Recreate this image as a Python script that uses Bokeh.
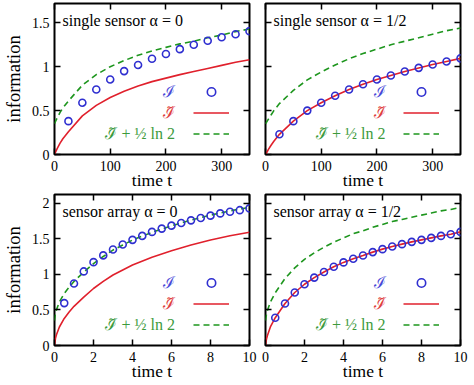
from bokeh.plotting import figure
from bokeh.models import (Range1d, LinearAxis, FixedTicker, Label, Legend,
                          LegendItem, NumeralTickFormatter)
from bokeh.core.properties import value
from bokeh.layouts import column, row
from bokeh.embed import file_html
from bokeh.resources import INLINE

# ---------------- data ----------------
# single sensor, alpha = 0
ss0_t_pts = [25, 50, 75, 100, 125, 150, 175, 200, 225, 250, 275, 300, 325, 350]
ss0_I = [0.38, 0.59, 0.74, 0.855, 0.95, 1.02, 1.09, 1.145, 1.20, 1.25, 1.295, 1.335, 1.37, 1.405]
ss0_t = [0, 2, 5, 10, 15, 25, 50, 75, 100, 125, 150, 175, 200, 225, 250, 275, 300, 325, 350]
ss0_It = [0, 0.03, 0.07, 0.13, 0.18, 0.26, 0.44, 0.56, 0.65, 0.72, 0.78, 0.83, 0.87, 0.91,
          0.945, 0.98, 1.015, 1.05, 1.08]
ss0_It2 = [0.35, 0.38, 0.42, 0.48, 0.53, 0.61, 0.79, 0.91, 1.0, 1.07, 1.13, 1.18, 1.22, 1.26,
           1.29, 1.33, 1.36, 1.40, 1.43]

# single sensor, alpha = 1/2
ss5_t_pts = [25, 50, 75, 100, 125, 150, 175, 200, 225, 250, 275, 300, 325, 350]
ss5_I = [0.23, 0.38, 0.50, 0.59, 0.67, 0.74, 0.80, 0.855, 0.90, 0.945, 0.987, 1.026, 1.06, 1.095]
ss5_t = [0, 2, 5, 10, 15, 25, 50, 75, 100, 125, 150, 175, 200, 225, 250, 275, 300, 325, 350]
ss5_It = [0, 0.02, 0.055, 0.105, 0.15, 0.23, 0.38, 0.50, 0.59, 0.67, 0.74, 0.80, 0.855, 0.90,
          0.945, 0.985, 1.025, 1.06, 1.095]
ss5_It2 = [0.35, 0.37, 0.40, 0.45, 0.50, 0.58, 0.73, 0.85, 0.94, 1.02, 1.09, 1.15, 1.20, 1.25,
           1.29, 1.33, 1.37, 1.41, 1.44]

# sensor array, alpha = 0
sa0_t_pts = [0.5, 1, 1.5, 2, 2.5, 3, 3.5, 4, 4.5, 5, 5.5, 6, 6.5, 7, 7.5, 8, 8.5, 9, 9.5, 10]
sa0_I = [0.595, 0.87, 1.04, 1.17, 1.265, 1.348, 1.418, 1.483, 1.539, 1.595, 1.641, 1.683,
         1.72, 1.757, 1.79, 1.823, 1.855, 1.878, 1.90, 1.925]
sa0_t = [0, 0.05, 0.1, 0.25, 0.5, 0.75, 1, 1.5, 2, 2.5, 3, 3.5, 4, 5, 6, 7, 8, 9, 10]
sa0_It = [0, 0.10, 0.15, 0.26, 0.38, 0.47, 0.55, 0.68, 0.80, 0.90, 0.99, 1.06, 1.13, 1.24,
          1.33, 1.41, 1.48, 1.54, 1.59]
sa0_It2 = [0.35, 0.45, 0.50, 0.61, 0.73, 0.82, 0.90, 1.03, 1.15, 1.25, 1.34, 1.41, 1.48, 1.59,
           1.68, 1.76, 1.83, 1.89, 1.94]

# sensor array, alpha = 1/2
sa5_t_pts = [0.5, 1, 1.5, 2, 2.5, 3, 3.5, 4, 4.5, 5, 5.5, 6, 6.5, 7, 7.5, 8, 8.5, 9, 9.5, 10]
sa5_I = [0.39, 0.59, 0.744, 0.86, 0.953, 1.032, 1.106, 1.167, 1.218, 1.264, 1.311, 1.353,
         1.39, 1.423, 1.455, 1.483, 1.511, 1.539, 1.562, 1.595]
sa5_t = [0, 0.05, 0.1, 0.25, 0.5, 1, 1.5, 2, 2.5, 3, 3.5, 4, 4.5, 5, 5.5, 6, 6.5, 7, 7.5, 8,
         8.5, 9, 9.5, 10]
sa5_It = [0, 0.09, 0.14, 0.26, 0.39, 0.59, 0.744, 0.86, 0.953, 1.032, 1.106, 1.167, 1.218,
          1.264, 1.311, 1.353, 1.39, 1.423, 1.455, 1.483, 1.511, 1.539, 1.562, 1.595]
sa5_It2 = [0.35, 0.44, 0.49, 0.61, 0.74, 0.94, 1.09, 1.21, 1.30, 1.38, 1.45, 1.51, 1.57,
           1.61, 1.66, 1.70, 1.74, 1.77, 1.80, 1.83, 1.86, 1.89, 1.91, 1.94]

titles = ["single sensor α = 0", "single sensor α = 1/2",
          "sensor array α = 0", "sensor array α = 1/2"]
legend_texts = ["ℐ", "ℐ̃", "ℐ̃ + ½ ln 2"]
x_ticks_single = [0, 100, 200, 300]
x_ticks_array = [0, 2, 4, 6, 8, 10]
y_ticks_single = [0, 0.5, 1, 1.5]
y_ticks_array = [0, 0.5, 1, 1.5, 2]

FONT = "Liberation Serif"
BLUE = "#2f2fd0"
RED = "#e0202c"
GREEN = "#1e961e"
TXT_COLORS = ["#4848d8", "#e04040", "#3c9a3c"]


def make_panel(title, xr, yr, xticks, yticks, t_pts, I_pts, t_cur, red, green,
               left, right, top, bottom, fw, fh, ylabel):
    p = figure(width=left + fw + right, height=top + fh + bottom,
               x_range=Range1d(*xr), y_range=Range1d(*yr),
               output_backend="svg", toolbar_location=None,
               min_border_left=left, min_border_right=right,
               min_border_top=top, min_border_bottom=bottom,
               background_fill_color="white", border_fill_color="white",
               outline_line_color="black", outline_line_width=2)
    p.xgrid.visible = False
    p.ygrid.visible = False

    def style(ax):
        ax.axis_line_color = None
        ax.major_tick_in = 6
        ax.major_tick_out = 0
        ax.major_tick_line_width = 1.5
        ax.major_tick_line_color = "black"
        ax.minor_tick_line_color = None
        ax.major_label_text_font = FONT
        ax.major_label_text_font_size = "14px"
        ax.major_label_text_color = "black"
        ax.axis_label_text_font = FONT
        ax.axis_label_text_font_size = "17.5px"
        ax.axis_label_text_font_style = "normal"
        ax.axis_label_text_color = "black"

    def hide_labels(ax):
        ax.major_label_text_font_size = "0px"
        ax.major_label_text_color = None
        ax.major_label_standoff = 0

    xa = p.xaxis[0]
    style(xa)
    xa.ticker = FixedTicker(ticks=xticks)
    xa.axis_label = "time t"
    xa.major_label_standoff = 6
    xa.axis_label_standoff = -4

    ya = p.yaxis[0]
    style(ya)
    ya.ticker = FixedTicker(ticks=yticks)
    ya.formatter = NumeralTickFormatter(format="0.[0]")
    if ylabel:
        ya.axis_label = "information"
        ya.axis_label_text_font_size = "18.5px"
        ya.major_label_standoff = 5
        ya.axis_label_standoff = 5
    else:
        hide_labels(ya)

    for ticks, side in [(xticks, "above"), (yticks, "right")]:
        ax = LinearAxis(ticker=FixedTicker(ticks=ticks))
        style(ax)
        hide_labels(ax)
        p.add_layout(ax, side)

    r_red = p.line(t_cur, red, line_color=RED, line_width=1.6)
    r_green = p.line(t_cur, green, line_color=GREEN, line_width=1.6, line_dash="6 4")
    r_pts = p.scatter(t_pts, I_pts, marker="circle", size=7, fill_color=None,
                      line_color=BLUE, line_width=1.6)

    sx = (xr[1] - xr[0]) / fw
    sy = (yr[1] - yr[0]) / fh

    def X(px):  # pixels from frame left -> data
        return xr[0] + px * sx

    def Y(py):  # pixels from frame bottom (upwards) -> data
        return yr[0] + py * sy

    p.add_layout(Label(x=X(8), y=Y(fh - 17), text=title, text_font=FONT,
                       text_font_size="16px", text_color="black",
                       text_align="left", text_baseline="alphabetic"))

    legend = Legend(items=[LegendItem(label=value(""), renderers=[r_pts]),
                           LegendItem(label=value(""), renderers=[r_red]),
                           LegendItem(label=value(""), renderers=[r_green])],
                    location=(fw - 57, 10), orientation="vertical",
                    glyph_width=36, glyph_height=21, label_width=0, label_height=21,
                    label_standoff=0, padding=0, spacing=0, margin=0,
                    border_line_color=None, background_fill_alpha=0,
                    label_text_font_size="1px", label_text_color=None,
                    label_text_alpha=0)
    p.add_layout(legend)

    for txt, col, dy in zip(legend_texts, TXT_COLORS, [63, 42, 21]):
        p.add_layout(Label(x=X(fw - 75), y=Y(dy), text=txt, text_color=col,
                           text_align="right", text_baseline="middle",
                           text_font=FONT, text_font_size="16px"))
    return p


p1 = make_panel(titles[0], (0, 350), (0, 1.72), x_ticks_single, y_ticks_single,
                ss0_t_pts, ss0_I, ss0_t, ss0_It, ss0_It2, 53, 8, 3, 39, 196, 151, True)
p2 = make_panel(titles[1], (0, 350), (0, 1.72), x_ticks_single, y_ticks_single,
                ss5_t_pts, ss5_I, ss5_t, ss5_It, ss5_It2, 8, 14, 3, 39, 195, 151, False)
p3 = make_panel(titles[2], (0, 10), (0, 2.12), x_ticks_array, y_ticks_array,
                sa0_t_pts, sa0_I, sa0_t, sa0_It, sa0_It2, 53, 8, 1, 39, 196, 151, True)
p4 = make_panel(titles[3], (0, 10), (0, 2.12), x_ticks_array, y_ticks_array,
                sa5_t_pts, sa5_I, sa5_t, sa5_It, sa5_It2, 8, 14, 1, 39, 195, 151, False)

layout = column(row(p1, p2), row(p3, p4))
open("out.html", "w").write(file_html(layout, INLINE))
